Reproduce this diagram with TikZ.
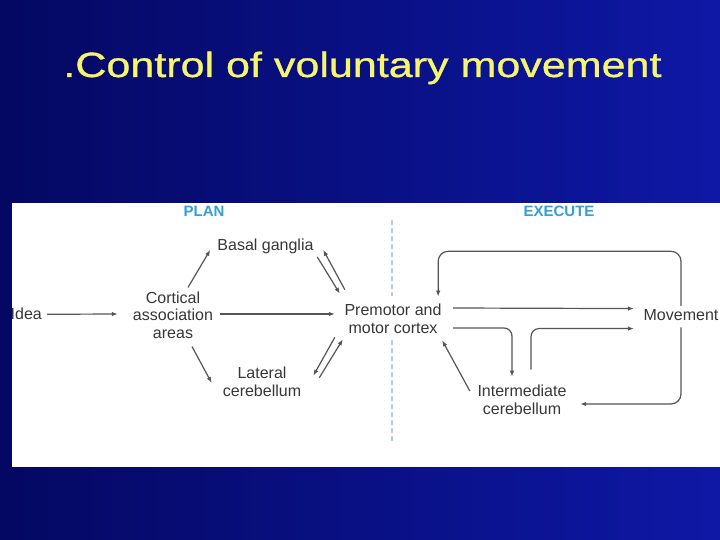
\documentclass[tikz,border=0pt]{standalone}
\usepackage{fontspec}
\setmainfont{Liberation Sans}
\newfontfamily\titlefont[FakeStretch=1.23, FakeBold=1]{Liberation Sans}
\usetikzlibrary{arrows.meta}
\definecolor{slideblue}{RGB}{14,24,165}
\definecolor{slidedark}{RGB}{4,8,98}
\definecolor{titleyellow}{RGB}{245,245,110}
\definecolor{headblue}{RGB}{50,160,210}
\definecolor{sepblue}{RGB}{170,210,230}
\definecolor{inkgray}{RGB}{55,55,55}
\definecolor{linegray}{RGB}{85,85,85}

\begin{document}
\begin{tikzpicture}[x=1pt, y=-1pt,
  every node/.style={font=\fontsize{16}{17.5}\selectfont, text=inkgray, inner sep=0pt},
  box/.style={align=center},
  head/.style={font=\fontsize{15}{15}\selectfont\bfseries, text=headblue, anchor=base},
  arr/.style={-{Latex[length=6pt, width=4.5pt]}, draw=linegray, line width=1.2pt}]
  \shade[left color=slidedark, right color=slideblue] (0,0) rectangle (720,540);
  \fill[white] (12,203) rectangle (720,467);
  \node[font=\titlefont\fontsize{35}{35}\selectfont, text=titleyellow, anchor=base] (title) at (362.5, 77) {.Control of voluntary movement};

  \begin{scope}
    \clip (12,203) rectangle (720,467);
    \node[anchor=base east] (idea) at (42, 319) {Idea};
  \end{scope}
  \node[head] (plan) at (204, 216) {PLAN};
  \node[head] (execute) at (559, 216) {EXECUTE};
  \node[anchor=base] (basal) at (265.5, 251) {Basal ganglia};
  \node[box] (cortical) at (173, 315) {Cortical\\association\\areas};
  \node[box] (lateral) at (262, 382) {Lateral\\cerebellum};
  \node[box] (premotor) at (393, 319) {Premotor and\\motor cortex};
  \node[anchor=base] (movement) at (681, 320) {Movement};
  \node[box] (intermediate) at (522, 400) {Intermediate\\cerebellum};
  \draw[sepblue, line width=1.5pt, dash pattern=on 5pt off 3pt] (392,220) -- (392,296) (392,340) -- (392,442);

  \draw[arr] ([shift={(5,1)}]idea.east) -- ([shift={(-15,-1)}]cortical.west);
  \draw[arr] ([shift={(7,-1)}]cortical.east) -- ([shift={(-9.5,-5)}]premotor.west);
  \draw[arr] ([shift={(15,-4)}]cortical.north) -- ([shift={(-7,3)}]basal.west);
  \draw[arr] ([shift={(19,8)}]cortical.south) -- ([shift={(-11,1)}]lateral.west);
  \draw[arr] ([shift={(3.5,10)}]basal.east) -- ([shift={(-4.5,-10.5)}]premotor.north west);
  \draw[arr] ([shift={(0.5,-14.5)}]premotor.north west) -- ([shift={(9.5,3)}]basal.east);
  \draw[arr] ([shift={(-9.5,3.5)}]premotor.south west) -- ([shift={(12,8.5)}]lateral.north east);
  \draw[arr] ([shift={(18,10.5)}]lateral.north east) -- ([shift={(-1.5,5.5)}]premotor.south west);
  \draw[arr] ([shift={(11.5,-11)}]premotor.east) -- ([shift={(-9.5,-6)}]movement.west);
  \draw[arr, rounded corners=8pt] ([shift={(11.5,9)}]premotor.east) -| ([shift={(-10,-8.5)}]intermediate.north);
  \draw[arr, rounded corners=8pt] ([shift={(9,-15.5)}]intermediate.north) |- ([shift={(-9.5,14)}]movement.west);
  \draw[arr] ([shift={(-7.5,-9)}]intermediate.west) -- ([shift={(0.5,6.5)}]premotor.south east);
  \draw[arr, rounded corners=10pt] ([shift={(0,-3)}]movement.north) -- ++(0,-54.5) -| ([shift={(-3.5,-7.5)}]premotor.north east);
  \draw[arr, rounded corners=10pt] ([shift={(0,7)}]movement.south) |- ([shift={(13.5,4)}]intermediate.east);
\end{tikzpicture}
\end{document}
